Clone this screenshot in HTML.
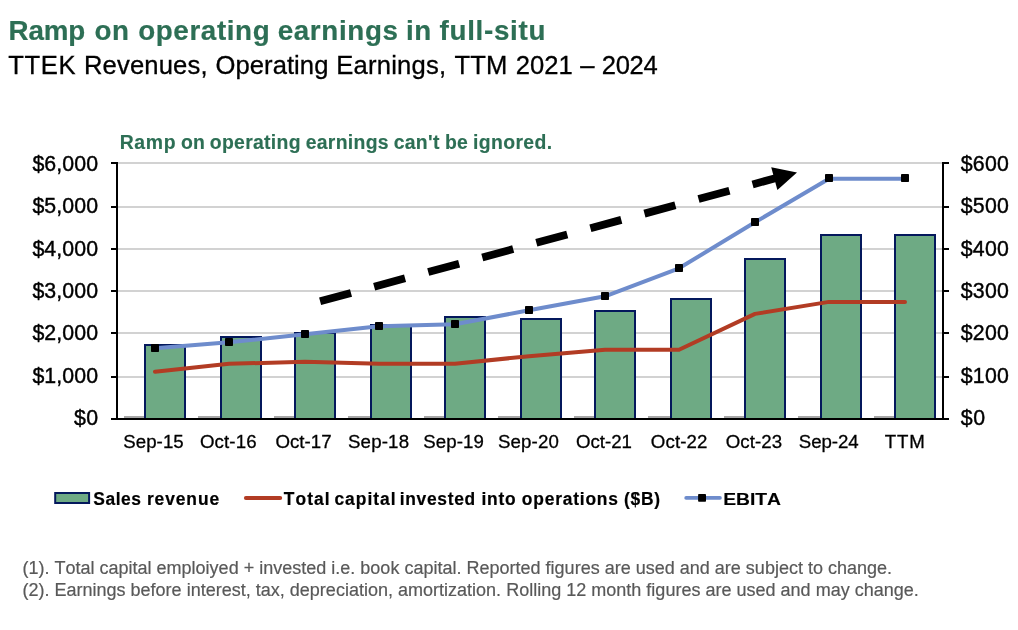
<!DOCTYPE html>
<html lang="en"><head><meta charset="utf-8"><title>Ramp on operating earnings in full-situ</title>
<style>html,body{margin:0;padding:0;background:#fff}body{width:1018px;height:630px;overflow:hidden}svg{display:block}text{white-space:pre;font-kerning:none}</style>
</head><body>
<svg width="1018" height="630" viewBox="0 0 1018 630" font-family='"Liberation Sans", sans-serif'>
<rect width="1018" height="630" fill="#fff"/>
<text y="0" font-size="27.8" font-weight="bold" fill="#2d6f55" stroke="#2d6f55" stroke-width="0.2" transform="translate(0 40) scale(1 1.015)"><tspan x="8.55" letter-spacing="-0.183">Ramp </tspan><tspan x="94.40" letter-spacing="0.643">on </tspan><tspan x="138.20" letter-spacing="0.606">operating </tspan><tspan x="277.65" letter-spacing="0.643">earnings </tspan><tspan x="405.98" letter-spacing="0.643">in </tspan><tspan x="439.60" letter-spacing="0.688">full-situ</tspan></text>
<text y="0" font-size="25.6" fill="#000" stroke="#000" stroke-width="0.3" transform="translate(0 73.5) scale(1 1.03)"><tspan x="8.30" letter-spacing="0.633">TTEK </tspan><tspan x="84.00" letter-spacing="0.150">Revenues, </tspan><tspan x="215.55" letter-spacing="0.062">Operating </tspan><tspan x="336.20" letter-spacing="0.231">Earnings, </tspan><tspan x="454.58" letter-spacing="0.150">TTM </tspan><tspan x="515.75">2021 </tspan><tspan x="580.22" letter-spacing="0.150">– </tspan><tspan x="601.75" letter-spacing="-0.333">2024</tspan></text>
<text y="148.7" font-size="19.4" font-weight="bold" fill="#2d6f55" stroke="#2d6f55" stroke-width="0.15"><tspan x="119.65" letter-spacing="0.717">Ramp </tspan><tspan x="180.91" letter-spacing="0.325">on </tspan><tspan x="209.75" letter-spacing="0.306">operating </tspan><tspan x="305.65" letter-spacing="0.307">earnings </tspan><tspan x="393.65" letter-spacing="0.325">can't </tspan><tspan x="444.96" letter-spacing="0.325">be </tspan><tspan x="473.05" letter-spacing="0.357">ignored.</tspan></text>
<rect x="118" y="376" width="824" height="2" fill="#d2d2d2"/>
<rect x="118" y="332" width="824" height="2" fill="#d2d2d2"/>
<rect x="118" y="290" width="824" height="2" fill="#d2d2d2"/>
<rect x="118" y="248" width="824" height="2" fill="#d2d2d2"/>
<rect x="118" y="206" width="824" height="2" fill="#d2d2d2"/>
<rect x="118" y="162" width="824" height="2" fill="#d2d2d2"/>
<rect x="124.0" y="416" width="23" height="2" fill="#a8a8a8"/>
<rect x="145.0" y="345.0" width="40" height="74.0" fill="#6eaa84" stroke="#04185c" stroke-width="2"/>
<rect x="198.0" y="416" width="23" height="2" fill="#a8a8a8"/>
<rect x="221.0" y="337.0" width="40" height="82.0" fill="#6eaa84" stroke="#04185c" stroke-width="2"/>
<rect x="274.0" y="416" width="23" height="2" fill="#a8a8a8"/>
<rect x="295.0" y="333.0" width="40" height="86.0" fill="#6eaa84" stroke="#04185c" stroke-width="2"/>
<rect x="348.0" y="416" width="23" height="2" fill="#a8a8a8"/>
<rect x="371.0" y="325.0" width="40" height="94.0" fill="#6eaa84" stroke="#04185c" stroke-width="2"/>
<rect x="424.0" y="416" width="23" height="2" fill="#a8a8a8"/>
<rect x="445.0" y="317.0" width="40" height="102.0" fill="#6eaa84" stroke="#04185c" stroke-width="2"/>
<rect x="498.0" y="416" width="23" height="2" fill="#a8a8a8"/>
<rect x="521.0" y="319.0" width="40" height="100.0" fill="#6eaa84" stroke="#04185c" stroke-width="2"/>
<rect x="574.0" y="416" width="23" height="2" fill="#a8a8a8"/>
<rect x="595.0" y="311.0" width="40" height="108.0" fill="#6eaa84" stroke="#04185c" stroke-width="2"/>
<rect x="648.0" y="416" width="23" height="2" fill="#a8a8a8"/>
<rect x="671.0" y="299.0" width="40" height="120.0" fill="#6eaa84" stroke="#04185c" stroke-width="2"/>
<rect x="724.0" y="416" width="23" height="2" fill="#a8a8a8"/>
<rect x="745.0" y="259.0" width="40" height="160.0" fill="#6eaa84" stroke="#04185c" stroke-width="2"/>
<rect x="798.0" y="416" width="23" height="2" fill="#a8a8a8"/>
<rect x="821.0" y="235.0" width="40" height="184.0" fill="#6eaa84" stroke="#04185c" stroke-width="2"/>
<rect x="874.0" y="416" width="23" height="2" fill="#a8a8a8"/>
<rect x="895.0" y="235.0" width="40" height="184.0" fill="#6eaa84" stroke="#04185c" stroke-width="2"/>
<rect x="116" y="162" width="2" height="258" fill="#000"/>
<rect x="942" y="162" width="2" height="258" fill="#000"/>
<rect x="111" y="418" width="838" height="2" fill="#000"/>
<rect x="111" y="376" width="6" height="2" fill="#000"/>
<rect x="943" y="376" width="6" height="2" fill="#000"/>
<rect x="111" y="332" width="6" height="2" fill="#000"/>
<rect x="943" y="332" width="6" height="2" fill="#000"/>
<rect x="111" y="290" width="6" height="2" fill="#000"/>
<rect x="943" y="290" width="6" height="2" fill="#000"/>
<rect x="111" y="248" width="6" height="2" fill="#000"/>
<rect x="943" y="248" width="6" height="2" fill="#000"/>
<rect x="111" y="206" width="6" height="2" fill="#000"/>
<rect x="943" y="206" width="6" height="2" fill="#000"/>
<rect x="111" y="162" width="6" height="2" fill="#000"/>
<rect x="943" y="162" width="6" height="2" fill="#000"/>
<polyline fill="none" stroke="#b23c24" stroke-width="4" stroke-linecap="round" stroke-linejoin="round" points="155,371.7 229,363.8 305,361.8 379,363.7 455,363.7 529,356.2 605,349.7 679,349.7 755,313.9 829,301.9 905,301.9"/>
<polyline fill="none" stroke="#6e8ccc" stroke-width="4" stroke-linejoin="round" points="155,348.3 229,342.3 305,334.3 379,326.3 455,324.3 529,310.3 605,296.3 679,268.3 755,222.3 829,178.7 905,178.7"/>
<rect x="151" y="344" width="8" height="8" rx="0.8" fill="#000"/>
<rect x="225" y="338" width="8" height="8" rx="0.8" fill="#000"/>
<rect x="301" y="330" width="8" height="8" rx="0.8" fill="#000"/>
<rect x="375" y="322" width="8" height="8" rx="0.8" fill="#000"/>
<rect x="451" y="320" width="8" height="8" rx="0.8" fill="#000"/>
<rect x="525" y="306" width="8" height="8" rx="0.8" fill="#000"/>
<rect x="601" y="292" width="8" height="8" rx="0.8" fill="#000"/>
<rect x="675" y="264" width="8" height="8" rx="0.8" fill="#000"/>
<rect x="751" y="218" width="8" height="8" rx="0.8" fill="#000"/>
<rect x="825" y="174" width="8" height="8" rx="0.8" fill="#000"/>
<rect x="901" y="174" width="8" height="8" rx="0.8" fill="#000"/>
<line x1="320.1" y1="301.25" x2="775.28" y2="178.27" stroke="#000" stroke-width="7.8" stroke-dasharray="32 24"/>
<polygon fill="#000" points="797,172.4 777.39,189.92 771.24,167.14"/>
<text y="0" font-size="21.33" fill="#000" stroke="#000" stroke-width="0.4" transform="translate(0 170.9) scale(1 1.075)"><tspan x="32.40" letter-spacing="0.100">$6,000</tspan></text>
<text y="0" font-size="21.33" fill="#000" stroke="#000" stroke-width="0.4" transform="translate(0 213.3) scale(1 1.075)"><tspan x="32.40" letter-spacing="0.100">$5,000</tspan></text>
<text y="0" font-size="21.33" fill="#000" stroke="#000" stroke-width="0.4" transform="translate(0 255.6) scale(1 1.075)"><tspan x="32.40" letter-spacing="0.100">$4,000</tspan></text>
<text y="0" font-size="21.33" fill="#000" stroke="#000" stroke-width="0.4" transform="translate(0 298.0) scale(1 1.075)"><tspan x="32.40" letter-spacing="0.100">$3,000</tspan></text>
<text y="0" font-size="21.33" fill="#000" stroke="#000" stroke-width="0.4" transform="translate(0 340.4) scale(1 1.075)"><tspan x="32.40" letter-spacing="0.100">$2,000</tspan></text>
<text y="0" font-size="21.33" fill="#000" stroke="#000" stroke-width="0.4" transform="translate(0 382.8) scale(1 1.075)"><tspan x="32.40" letter-spacing="0.100">$1,000</tspan></text>
<text y="0" font-size="21.33" fill="#000" stroke="#000" stroke-width="0.4" transform="translate(0 425.1) scale(1 1.075)"><tspan x="73.90" letter-spacing="0.500">$0</tspan></text>
<text y="0" font-size="21.33" fill="#000" stroke="#000" stroke-width="0.4" transform="translate(0 170.9) scale(1 1.075)"><tspan x="960.85" letter-spacing="0.167">$600</tspan></text>
<text y="0" font-size="21.33" fill="#000" stroke="#000" stroke-width="0.4" transform="translate(0 213.3) scale(1 1.075)"><tspan x="960.85" letter-spacing="0.167">$500</tspan></text>
<text y="0" font-size="21.33" fill="#000" stroke="#000" stroke-width="0.4" transform="translate(0 255.6) scale(1 1.075)"><tspan x="960.85" letter-spacing="0.167">$400</tspan></text>
<text y="0" font-size="21.33" fill="#000" stroke="#000" stroke-width="0.4" transform="translate(0 298.0) scale(1 1.075)"><tspan x="960.85" letter-spacing="0.167">$300</tspan></text>
<text y="0" font-size="21.33" fill="#000" stroke="#000" stroke-width="0.4" transform="translate(0 340.4) scale(1 1.075)"><tspan x="960.85" letter-spacing="0.167">$200</tspan></text>
<text y="0" font-size="21.33" fill="#000" stroke="#000" stroke-width="0.4" transform="translate(0 382.8) scale(1 1.075)"><tspan x="960.85" letter-spacing="0.167">$100</tspan></text>
<text y="0" font-size="21.33" fill="#000" stroke="#000" stroke-width="0.4" transform="translate(0 425.1) scale(1 1.075)"><tspan x="960.85" letter-spacing="0.500">$0</tspan></text>
<text y="447.7" font-size="18.67" fill="#000" stroke="#000" stroke-width="0.3"><tspan x="123.20" letter-spacing="0.080">Sep-15</tspan></text>
<text y="447.7" font-size="18.67" fill="#000" stroke="#000" stroke-width="0.3"><tspan x="200.00" letter-spacing="0.110">Oct-16</tspan></text>
<text y="447.7" font-size="18.67" fill="#000" stroke="#000" stroke-width="0.3"><tspan x="275.40" letter-spacing="0.040">Oct-17</tspan></text>
<text y="447.7" font-size="18.67" fill="#000" stroke="#000" stroke-width="0.3"><tspan x="348.00" letter-spacing="0.170">Sep-18</tspan></text>
<text y="447.7" font-size="18.67" fill="#000" stroke="#000" stroke-width="0.3"><tspan x="423.20" letter-spacing="0.130">Sep-19</tspan></text>
<text y="447.7" font-size="18.67" fill="#000" stroke="#000" stroke-width="0.3"><tspan x="498.00" letter-spacing="0.120">Sep-20</tspan></text>
<text y="447.7" font-size="18.67" fill="#000" stroke="#000" stroke-width="0.3"><tspan x="575.90">Oct-21</tspan></text>
<text y="447.7" font-size="18.67" fill="#000" stroke="#000" stroke-width="0.3"><tspan x="650.80" letter-spacing="0.140">Oct-22</tspan></text>
<text y="447.7" font-size="18.67" fill="#000" stroke="#000" stroke-width="0.3"><tspan x="725.70" letter-spacing="0.070">Oct-23</tspan></text>
<text y="447.7" font-size="18.67" fill="#000" stroke="#000" stroke-width="0.3"><tspan x="798.80" letter-spacing="-0.050">Sep-24</tspan></text>
<text y="447.7" font-size="18.67" fill="#000" stroke="#000" stroke-width="0.3"><tspan x="884.80" letter-spacing="0.825">TTM</tspan></text>
<rect x="55.2" y="493" width="33.9" height="10" fill="#6eaa84" stroke="#04185c" stroke-width="2"/>
<text y="0" font-size="17.4" font-weight="bold" fill="#000" stroke="#000" stroke-width="0.2" transform="translate(0 504.6) scale(1 1.02)"><tspan x="93.30" letter-spacing="0.537">Sales </tspan><tspan x="146.95" letter-spacing="0.908">revenue</tspan></text>
<line x1="245.9" y1="497.9" x2="280.2" y2="497.9" stroke="#b23c24" stroke-width="4" stroke-linecap="round"/>
<text y="0" font-size="17.4" font-weight="bold" fill="#000" stroke="#000" stroke-width="0.2" transform="translate(0 504.6) scale(1 1.02)"><tspan x="283.85" letter-spacing="1.050">Total </tspan><tspan x="334.45" letter-spacing="1.017">capital </tspan><tspan x="399.75" letter-spacing="0.693">invested </tspan><tspan x="481.55" letter-spacing="0.733">into </tspan><tspan x="521.85" letter-spacing="0.800">operations </tspan><tspan x="623.90" letter-spacing="0.767">($B)</tspan></text>
<line x1="686.1" y1="497.9" x2="720" y2="497.9" stroke="#6e8ccc" stroke-width="3.6" stroke-linecap="round"/>
<rect x="698.1" y="493.9" width="7.9" height="7.9" rx="0.8" fill="#000"/>
<text y="0" font-size="19.3" font-weight="bold" fill="#000" stroke="#000" stroke-width="0.15" transform="translate(0 504.90000000000003) scale(1 0.88)"><tspan x="723.15">EBITA</tspan></text>
<text y="573.9" font-size="18" fill="#595959" stroke="#595959" stroke-width="0.2"><tspan x="22.40" letter-spacing="0.006">(1). Total capital emploiyed + invested i.e. book capital. Reported figures are used and are subject to change.</tspan></text>
<text y="595.9" font-size="18" fill="#595959" stroke="#595959" stroke-width="0.2"><tspan x="22.40" letter-spacing="0.008">(2). Earnings before interest, tax, depreciation, amortization. Rolling 12 month figures are used and may change.</tspan></text>
</svg>
</body></html>
